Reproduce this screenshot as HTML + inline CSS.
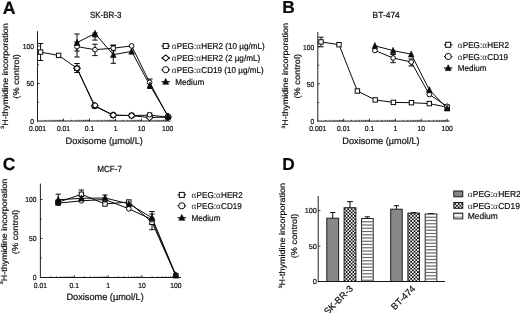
<!DOCTYPE html>
<html lang="en">
<head>
<meta charset="utf-8">
<title>Figure</title>
<style>
html,body{margin:0;padding:0;background:#fff;}
body{width:520px;height:313px;overflow:hidden;}
svg{display:block;text-rendering:geometricPrecision;font-family:'Liberation Sans', Arial, sans-serif;fill:#0a0a0a;}
</style>
</head>
<body>
<svg width="520" height="313" viewBox="0 0 520 313">
<defs>
<pattern id="pg" width="2" height="2" patternUnits="userSpaceOnUse"><rect width="2" height="2" fill="#8e8e8e"/><rect width="1" height="1" fill="#808080"/><rect x="1" y="1" width="1" height="1" fill="#808080"/></pattern>
<pattern id="pc" width="3.4" height="3.4" patternUnits="userSpaceOnUse" patternTransform="translate(0.6 0.9)"><rect width="3.4" height="3.4" fill="#fff"/><rect width="1.7" height="1.7" fill="#0c0c0c"/><rect x="1.7" y="1.7" width="1.7" height="1.7" fill="#0c0c0c"/></pattern>
<pattern id="ps" width="3.4" height="3.4" patternUnits="userSpaceOnUse"><rect width="3.4" height="3.4" fill="#fff"/><rect y="2.4" width="3.4" height="1" fill="#777"/></pattern>
</defs>
<rect width="520" height="313" fill="#fff"/>
<text transform="translate(2.80 13.60)" font-size="17.7" text-anchor="start" font-weight="bold" stroke="#0a0a0a" stroke-width="0.2">A</text>
<text transform="translate(105.70 17.90) scale(1.0 1.12)" font-size="8" text-anchor="middle" font-weight="normal" stroke="#0a0a0a" stroke-width="0.18">SK-BR-3</text>
<line x1="37.50" y1="31.20" x2="37.50" y2="121.45" stroke="#0a0a0a" stroke-width="0.9"/>
<line x1="37.05" y1="121.00" x2="170.50" y2="121.00" stroke="#0a0a0a" stroke-width="0.95"/>
<line x1="37.50" y1="102.25" x2="38.90" y2="102.25" stroke="#0a0a0a" stroke-width="0.8"/>
<line x1="37.50" y1="83.50" x2="39.70" y2="83.50" stroke="#0a0a0a" stroke-width="0.8"/>
<line x1="37.50" y1="64.75" x2="38.90" y2="64.75" stroke="#0a0a0a" stroke-width="0.8"/>
<line x1="37.50" y1="46.00" x2="39.70" y2="46.00" stroke="#0a0a0a" stroke-width="0.8"/>
<text transform="translate(33.90 123.90) scale(1.0 1.08)" font-size="6.75" text-anchor="end" font-weight="normal" stroke="#0a0a0a" stroke-width="0.18">0</text>
<text transform="translate(33.90 86.40) scale(1.0 1.08)" font-size="6.75" text-anchor="end" font-weight="normal" stroke="#0a0a0a" stroke-width="0.18">50</text>
<text transform="translate(33.90 48.90) scale(1.0 1.08)" font-size="6.75" text-anchor="end" font-weight="normal" stroke="#0a0a0a" stroke-width="0.18">100</text>
<text transform="translate(37.50 130.80) scale(1.0 1.08)" font-size="6.75" text-anchor="middle" font-weight="normal" stroke="#0a0a0a" stroke-width="0.18">0.001</text>
<line x1="45.33" y1="121.00" x2="45.33" y2="119.70" stroke="#0a0a0a" stroke-width="0.6"/>
<line x1="49.91" y1="121.00" x2="49.91" y2="119.70" stroke="#0a0a0a" stroke-width="0.6"/>
<line x1="53.15" y1="121.00" x2="53.15" y2="119.70" stroke="#0a0a0a" stroke-width="0.6"/>
<line x1="55.67" y1="121.00" x2="55.67" y2="119.70" stroke="#0a0a0a" stroke-width="0.6"/>
<line x1="57.73" y1="121.00" x2="57.73" y2="119.70" stroke="#0a0a0a" stroke-width="0.6"/>
<line x1="59.47" y1="121.00" x2="59.47" y2="119.70" stroke="#0a0a0a" stroke-width="0.6"/>
<line x1="60.98" y1="121.00" x2="60.98" y2="119.70" stroke="#0a0a0a" stroke-width="0.6"/>
<line x1="62.31" y1="121.00" x2="62.31" y2="119.70" stroke="#0a0a0a" stroke-width="0.6"/>
<line x1="63.50" y1="121.00" x2="63.50" y2="118.60" stroke="#0a0a0a" stroke-width="0.8"/>
<text transform="translate(63.50 130.80) scale(1.0 1.08)" font-size="6.75" text-anchor="middle" font-weight="normal" stroke="#0a0a0a" stroke-width="0.18">0.01</text>
<line x1="71.33" y1="121.00" x2="71.33" y2="119.70" stroke="#0a0a0a" stroke-width="0.6"/>
<line x1="75.91" y1="121.00" x2="75.91" y2="119.70" stroke="#0a0a0a" stroke-width="0.6"/>
<line x1="79.15" y1="121.00" x2="79.15" y2="119.70" stroke="#0a0a0a" stroke-width="0.6"/>
<line x1="81.67" y1="121.00" x2="81.67" y2="119.70" stroke="#0a0a0a" stroke-width="0.6"/>
<line x1="83.73" y1="121.00" x2="83.73" y2="119.70" stroke="#0a0a0a" stroke-width="0.6"/>
<line x1="85.47" y1="121.00" x2="85.47" y2="119.70" stroke="#0a0a0a" stroke-width="0.6"/>
<line x1="86.98" y1="121.00" x2="86.98" y2="119.70" stroke="#0a0a0a" stroke-width="0.6"/>
<line x1="88.31" y1="121.00" x2="88.31" y2="119.70" stroke="#0a0a0a" stroke-width="0.6"/>
<line x1="89.50" y1="121.00" x2="89.50" y2="118.60" stroke="#0a0a0a" stroke-width="0.8"/>
<text transform="translate(89.50 130.80) scale(1.0 1.08)" font-size="6.75" text-anchor="middle" font-weight="normal" stroke="#0a0a0a" stroke-width="0.18">0.1</text>
<line x1="97.33" y1="121.00" x2="97.33" y2="119.70" stroke="#0a0a0a" stroke-width="0.6"/>
<line x1="101.91" y1="121.00" x2="101.91" y2="119.70" stroke="#0a0a0a" stroke-width="0.6"/>
<line x1="105.15" y1="121.00" x2="105.15" y2="119.70" stroke="#0a0a0a" stroke-width="0.6"/>
<line x1="107.67" y1="121.00" x2="107.67" y2="119.70" stroke="#0a0a0a" stroke-width="0.6"/>
<line x1="109.73" y1="121.00" x2="109.73" y2="119.70" stroke="#0a0a0a" stroke-width="0.6"/>
<line x1="111.47" y1="121.00" x2="111.47" y2="119.70" stroke="#0a0a0a" stroke-width="0.6"/>
<line x1="112.98" y1="121.00" x2="112.98" y2="119.70" stroke="#0a0a0a" stroke-width="0.6"/>
<line x1="114.31" y1="121.00" x2="114.31" y2="119.70" stroke="#0a0a0a" stroke-width="0.6"/>
<line x1="115.50" y1="121.00" x2="115.50" y2="118.60" stroke="#0a0a0a" stroke-width="0.8"/>
<text transform="translate(115.50 130.80) scale(1.0 1.08)" font-size="6.75" text-anchor="middle" font-weight="normal" stroke="#0a0a0a" stroke-width="0.18">1</text>
<line x1="123.33" y1="121.00" x2="123.33" y2="119.70" stroke="#0a0a0a" stroke-width="0.6"/>
<line x1="127.91" y1="121.00" x2="127.91" y2="119.70" stroke="#0a0a0a" stroke-width="0.6"/>
<line x1="131.15" y1="121.00" x2="131.15" y2="119.70" stroke="#0a0a0a" stroke-width="0.6"/>
<line x1="133.67" y1="121.00" x2="133.67" y2="119.70" stroke="#0a0a0a" stroke-width="0.6"/>
<line x1="135.73" y1="121.00" x2="135.73" y2="119.70" stroke="#0a0a0a" stroke-width="0.6"/>
<line x1="137.47" y1="121.00" x2="137.47" y2="119.70" stroke="#0a0a0a" stroke-width="0.6"/>
<line x1="138.98" y1="121.00" x2="138.98" y2="119.70" stroke="#0a0a0a" stroke-width="0.6"/>
<line x1="140.31" y1="121.00" x2="140.31" y2="119.70" stroke="#0a0a0a" stroke-width="0.6"/>
<line x1="141.50" y1="121.00" x2="141.50" y2="118.60" stroke="#0a0a0a" stroke-width="0.8"/>
<text transform="translate(141.50 130.80) scale(1.0 1.08)" font-size="6.75" text-anchor="middle" font-weight="normal" stroke="#0a0a0a" stroke-width="0.18">10</text>
<line x1="149.33" y1="121.00" x2="149.33" y2="119.70" stroke="#0a0a0a" stroke-width="0.6"/>
<line x1="153.91" y1="121.00" x2="153.91" y2="119.70" stroke="#0a0a0a" stroke-width="0.6"/>
<line x1="157.15" y1="121.00" x2="157.15" y2="119.70" stroke="#0a0a0a" stroke-width="0.6"/>
<line x1="159.67" y1="121.00" x2="159.67" y2="119.70" stroke="#0a0a0a" stroke-width="0.6"/>
<line x1="161.73" y1="121.00" x2="161.73" y2="119.70" stroke="#0a0a0a" stroke-width="0.6"/>
<line x1="163.47" y1="121.00" x2="163.47" y2="119.70" stroke="#0a0a0a" stroke-width="0.6"/>
<line x1="164.98" y1="121.00" x2="164.98" y2="119.70" stroke="#0a0a0a" stroke-width="0.6"/>
<line x1="166.31" y1="121.00" x2="166.31" y2="119.70" stroke="#0a0a0a" stroke-width="0.6"/>
<line x1="167.50" y1="121.00" x2="167.50" y2="118.60" stroke="#0a0a0a" stroke-width="0.8"/>
<text transform="translate(167.50 130.80) scale(1.0 1.08)" font-size="6.75" text-anchor="middle" font-weight="normal" stroke="#0a0a0a" stroke-width="0.18">100</text>
<text transform="translate(104.20 144.40) scale(1.0 1.03)" font-size="9.2" text-anchor="middle" font-weight="normal" stroke="#0a0a0a" stroke-width="0.18">Doxisome (µmol/L)</text>
<text transform="translate(7.60 76.00) rotate(-90) scale(1.085 1.0)" font-size="8.3" text-anchor="middle" font-weight="normal" stroke="#0a0a0a" stroke-width="0.18"><tspan font-size="4.8" dy="-3.4">3</tspan><tspan dy="3.4">H-thymidine incorporation</tspan></text>
<text transform="translate(18.80 76.40) rotate(-90) scale(1.11 1.0)" font-size="8.3" text-anchor="middle" font-weight="normal" stroke="#0a0a0a" stroke-width="0.18">(% control)</text>
<polyline points="40.60,52.10 58.60,55.40 77.00,68.30 94.50,106.10 113.20,115.20 131.60,115.50 149.60,115.20 168.00,117.00" fill="none" stroke="#0a0a0a" stroke-width="1.0" stroke-linejoin="round"/>
<line x1="40.60" y1="43.50" x2="40.60" y2="60.50" stroke="#0a0a0a" stroke-width="1.0"/>
<line x1="37.90" y1="43.50" x2="43.30" y2="43.50" stroke="#0a0a0a" stroke-width="1.0"/>
<line x1="37.90" y1="60.50" x2="43.30" y2="60.50" stroke="#0a0a0a" stroke-width="1.0"/>
<line x1="77.00" y1="63.50" x2="77.00" y2="72.50" stroke="#0a0a0a" stroke-width="1.0"/>
<line x1="74.30" y1="63.50" x2="79.70" y2="63.50" stroke="#0a0a0a" stroke-width="1.0"/>
<line x1="74.30" y1="72.50" x2="79.70" y2="72.50" stroke="#0a0a0a" stroke-width="1.0"/>
<polyline points="77.00,68.30 94.80,105.70 113.30,115.20 131.60,115.60 149.60,117.60 168.00,117.00" fill="none" stroke="#0a0a0a" stroke-width="1.0" stroke-linejoin="round"/>
<polyline points="77.00,46.60 95.00,49.70 113.30,48.20 131.60,45.90 149.60,82.40 168.00,116.40" fill="none" stroke="#0a0a0a" stroke-width="1.0" stroke-linejoin="round"/>
<line x1="77.00" y1="42.00" x2="77.00" y2="51.00" stroke="#0a0a0a" stroke-width="1.0"/>
<line x1="74.30" y1="42.00" x2="79.70" y2="42.00" stroke="#0a0a0a" stroke-width="1.0"/>
<line x1="74.30" y1="51.00" x2="79.70" y2="51.00" stroke="#0a0a0a" stroke-width="1.0"/>
<line x1="95.00" y1="44.20" x2="95.00" y2="55.60" stroke="#0a0a0a" stroke-width="1.0"/>
<line x1="92.30" y1="44.20" x2="97.70" y2="44.20" stroke="#0a0a0a" stroke-width="1.0"/>
<line x1="92.30" y1="55.60" x2="97.70" y2="55.60" stroke="#0a0a0a" stroke-width="1.0"/>
<line x1="113.30" y1="45.50" x2="113.30" y2="50.80" stroke="#0a0a0a" stroke-width="1.0"/>
<line x1="110.60" y1="45.50" x2="116.00" y2="45.50" stroke="#0a0a0a" stroke-width="1.0"/>
<line x1="110.60" y1="50.80" x2="116.00" y2="50.80" stroke="#0a0a0a" stroke-width="1.0"/>
<polyline points="77.00,42.60 95.00,33.50 113.30,54.70 131.60,51.40 149.90,85.30 168.00,116.20" fill="none" stroke="#0a0a0a" stroke-width="1.0" stroke-linejoin="round"/>
<line x1="77.00" y1="34.00" x2="77.00" y2="57.00" stroke="#0a0a0a" stroke-width="1.0"/>
<line x1="74.30" y1="34.00" x2="79.70" y2="34.00" stroke="#0a0a0a" stroke-width="1.0"/>
<line x1="74.30" y1="57.00" x2="79.70" y2="57.00" stroke="#0a0a0a" stroke-width="1.0"/>
<line x1="95.00" y1="33.00" x2="95.00" y2="40.10" stroke="#0a0a0a" stroke-width="1.0"/>
<line x1="92.30" y1="33.00" x2="97.70" y2="33.00" stroke="#0a0a0a" stroke-width="1.0"/>
<line x1="92.30" y1="40.10" x2="97.70" y2="40.10" stroke="#0a0a0a" stroke-width="1.0"/>
<line x1="113.30" y1="45.00" x2="113.30" y2="63.30" stroke="#0a0a0a" stroke-width="1.0"/>
<line x1="110.60" y1="45.00" x2="116.00" y2="45.00" stroke="#0a0a0a" stroke-width="1.0"/>
<line x1="110.60" y1="63.30" x2="116.00" y2="63.30" stroke="#0a0a0a" stroke-width="1.0"/>
<line x1="149.90" y1="79.00" x2="149.90" y2="88.40" stroke="#0a0a0a" stroke-width="1.0"/>
<line x1="147.20" y1="79.00" x2="152.60" y2="79.00" stroke="#0a0a0a" stroke-width="1.0"/>
<line x1="147.20" y1="88.40" x2="152.60" y2="88.40" stroke="#0a0a0a" stroke-width="1.0"/>
<line x1="92.30" y1="36.90" x2="97.70" y2="36.90" stroke="#0a0a0a" stroke-width="1.0"/>
<rect x="38.40" y="49.90" width="4.4" height="4.4" fill="#fff" stroke="#0a0a0a" stroke-width="1.0"/>
<rect x="56.40" y="53.20" width="4.4" height="4.4" fill="#fff" stroke="#0a0a0a" stroke-width="1.0"/>
<rect x="74.80" y="66.10" width="4.4" height="4.4" fill="#fff" stroke="#0a0a0a" stroke-width="1.0"/>
<rect x="92.30" y="103.90" width="4.4" height="4.4" fill="#fff" stroke="#0a0a0a" stroke-width="1.0"/>
<rect x="111.00" y="113.00" width="4.4" height="4.4" fill="#fff" stroke="#0a0a0a" stroke-width="1.0"/>
<rect x="129.40" y="113.30" width="4.4" height="4.4" fill="#fff" stroke="#0a0a0a" stroke-width="1.0"/>
<rect x="147.40" y="113.00" width="4.4" height="4.4" fill="#fff" stroke="#0a0a0a" stroke-width="1.0"/>
<rect x="165.80" y="114.80" width="4.4" height="4.4" fill="#fff" stroke="#0a0a0a" stroke-width="1.0"/>
<polygon points="77.00,65.10 80.40,68.30 77.00,71.50 73.60,68.30" fill="#fff" stroke="#0a0a0a" stroke-width="1.05"/>
<polygon points="94.80,102.50 98.20,105.70 94.80,108.90 91.40,105.70" fill="#fff" stroke="#0a0a0a" stroke-width="1.05"/>
<polygon points="113.30,112.00 116.70,115.20 113.30,118.40 109.90,115.20" fill="#fff" stroke="#0a0a0a" stroke-width="1.05"/>
<polygon points="131.60,112.40 135.00,115.60 131.60,118.80 128.20,115.60" fill="#fff" stroke="#0a0a0a" stroke-width="1.05"/>
<polygon points="149.60,114.40 153.00,117.60 149.60,120.80 146.20,117.60" fill="#fff" stroke="#0a0a0a" stroke-width="1.05"/>
<polygon points="168.00,113.80 171.40,117.00 168.00,120.20 164.60,117.00" fill="#fff" stroke="#0a0a0a" stroke-width="1.05"/>
<circle cx="77.00" cy="46.60" r="2.35" fill="#fff" stroke="#0a0a0a" stroke-width="1.0"/>
<circle cx="95.00" cy="49.70" r="2.35" fill="#fff" stroke="#0a0a0a" stroke-width="1.0"/>
<circle cx="113.30" cy="48.20" r="2.35" fill="#fff" stroke="#0a0a0a" stroke-width="1.0"/>
<circle cx="131.60" cy="45.90" r="2.35" fill="#fff" stroke="#0a0a0a" stroke-width="1.0"/>
<circle cx="149.60" cy="82.40" r="2.35" fill="#fff" stroke="#0a0a0a" stroke-width="1.0"/>
<circle cx="168.00" cy="116.40" r="2.35" fill="#fff" stroke="#0a0a0a" stroke-width="1.0"/>
<circle cx="77.00" cy="68.30" r="2.35" fill="#fff" stroke="#0a0a0a" stroke-width="1.0"/>
<circle cx="95.20" cy="105.30" r="2.35" fill="#fff" stroke="#0a0a0a" stroke-width="1.0"/>
<circle cx="149.60" cy="114.80" r="2.35" fill="#fff" stroke="#0a0a0a" stroke-width="1.0"/>
<polygon points="77.00,39.30 79.80,45.40 74.20,45.40" fill="#0a0a0a" stroke="#0a0a0a" stroke-width="0.6" stroke-linejoin="round"/>
<polygon points="95.00,30.20 97.80,36.30 92.20,36.30" fill="#0a0a0a" stroke="#0a0a0a" stroke-width="0.6" stroke-linejoin="round"/>
<polygon points="113.30,51.40 116.10,57.50 110.50,57.50" fill="#0a0a0a" stroke="#0a0a0a" stroke-width="0.6" stroke-linejoin="round"/>
<polygon points="131.60,48.10 134.40,54.20 128.80,54.20" fill="#0a0a0a" stroke="#0a0a0a" stroke-width="0.6" stroke-linejoin="round"/>
<polygon points="149.90,82.00 152.70,88.10 147.10,88.10" fill="#0a0a0a" stroke="#0a0a0a" stroke-width="0.6" stroke-linejoin="round"/>
<polygon points="168.00,112.90 170.80,119.00 165.20,119.00" fill="#0a0a0a" stroke="#0a0a0a" stroke-width="0.6" stroke-linejoin="round"/>
<line x1="161.40" y1="46.00" x2="170.00" y2="46.00" stroke="#0a0a0a" stroke-width="1.1"/>
<rect x="163.20" y="43.50" width="5.0" height="5.0" fill="#fff" stroke="#0a0a0a" stroke-width="1.0"/>
<text transform="translate(171.70 49.30) scale(1.0 1.05)" font-size="8.15" text-anchor="start" font-weight="normal" stroke="#0a0a0a" stroke-width="0.18"><tspan font-family="Liberation Serif, serif" font-size="9" letter-spacing="0.35" stroke="none" fill="#2a2a2a">α</tspan>PEG:<tspan font-family="Liberation Serif, serif" font-size="9" letter-spacing="0.35" stroke="none" fill="#2a2a2a">α</tspan>HER2 (10 µg/mL)</text>
<line x1="161.40" y1="58.00" x2="170.00" y2="58.00" stroke="#0a0a0a" stroke-width="1.1"/>
<polygon points="165.70,54.90 169.20,58.00 165.70,61.10 162.20,58.00" fill="#fff" stroke="#0a0a0a" stroke-width="1.05"/>
<text transform="translate(171.70 61.30) scale(1.0 1.05)" font-size="8.15" text-anchor="start" font-weight="normal" stroke="#0a0a0a" stroke-width="0.18"><tspan font-family="Liberation Serif, serif" font-size="9" letter-spacing="0.35" stroke="none" fill="#2a2a2a">α</tspan>PEG:<tspan font-family="Liberation Serif, serif" font-size="9" letter-spacing="0.35" stroke="none" fill="#2a2a2a">α</tspan>HER2 (2 µg/mL)</text>
<line x1="161.40" y1="69.70" x2="170.00" y2="69.70" stroke="#0a0a0a" stroke-width="1.1"/>
<circle cx="165.70" cy="69.70" r="3.1" fill="#fff" stroke="#0a0a0a" stroke-width="1.0"/>
<text transform="translate(171.70 73.00) scale(1.0 1.05)" font-size="8.15" text-anchor="start" font-weight="normal" stroke="#0a0a0a" stroke-width="0.18"><tspan font-family="Liberation Serif, serif" font-size="9" letter-spacing="0.35" stroke="none" fill="#2a2a2a">α</tspan>PEG:<tspan font-family="Liberation Serif, serif" font-size="9" letter-spacing="0.35" stroke="none" fill="#2a2a2a">α</tspan>CD19 (10 µg/mL)</text>
<line x1="161.40" y1="81.70" x2="170.00" y2="81.70" stroke="#0a0a0a" stroke-width="1.1"/>
<polygon points="165.70,78.40 168.70,84.30 162.70,84.30" fill="#0a0a0a" stroke="#0a0a0a" stroke-width="0.6" stroke-linejoin="round"/>
<text transform="translate(175.30 85.00) scale(1.0 1.05)" font-size="8.15" text-anchor="start" font-weight="normal" stroke="#0a0a0a" stroke-width="0.18">Medium</text>
<text transform="translate(282.20 13.40)" font-size="17.4" text-anchor="start" font-weight="bold" stroke="#0a0a0a" stroke-width="0.2">B</text>
<text transform="translate(386.20 18.40) scale(1.0 1.04)" font-size="8.45" text-anchor="middle" font-weight="normal" stroke="#0a0a0a" stroke-width="0.18">BT-474</text>
<line x1="317.80" y1="32.00" x2="317.80" y2="121.55" stroke="#0a0a0a" stroke-width="0.9"/>
<line x1="317.35" y1="121.10" x2="449.50" y2="121.10" stroke="#0a0a0a" stroke-width="0.95"/>
<line x1="317.80" y1="102.47" x2="319.20" y2="102.47" stroke="#0a0a0a" stroke-width="0.8"/>
<line x1="317.80" y1="83.85" x2="320.00" y2="83.85" stroke="#0a0a0a" stroke-width="0.8"/>
<line x1="317.80" y1="65.22" x2="319.20" y2="65.22" stroke="#0a0a0a" stroke-width="0.8"/>
<line x1="317.80" y1="46.60" x2="320.00" y2="46.60" stroke="#0a0a0a" stroke-width="0.8"/>
<text transform="translate(314.30 124.00) scale(1.0 1.08)" font-size="6.75" text-anchor="end" font-weight="normal" stroke="#0a0a0a" stroke-width="0.18">0</text>
<text transform="translate(314.30 86.75) scale(1.0 1.08)" font-size="6.75" text-anchor="end" font-weight="normal" stroke="#0a0a0a" stroke-width="0.18">50</text>
<text transform="translate(314.30 49.50) scale(1.0 1.08)" font-size="6.75" text-anchor="end" font-weight="normal" stroke="#0a0a0a" stroke-width="0.18">100</text>
<text transform="translate(317.80 130.80) scale(1.0 1.08)" font-size="6.75" text-anchor="middle" font-weight="normal" stroke="#0a0a0a" stroke-width="0.18">0.001</text>
<line x1="325.59" y1="121.10" x2="325.59" y2="119.80" stroke="#0a0a0a" stroke-width="0.6"/>
<line x1="330.14" y1="121.10" x2="330.14" y2="119.80" stroke="#0a0a0a" stroke-width="0.6"/>
<line x1="333.38" y1="121.10" x2="333.38" y2="119.80" stroke="#0a0a0a" stroke-width="0.6"/>
<line x1="335.88" y1="121.10" x2="335.88" y2="119.80" stroke="#0a0a0a" stroke-width="0.6"/>
<line x1="337.93" y1="121.10" x2="337.93" y2="119.80" stroke="#0a0a0a" stroke-width="0.6"/>
<line x1="339.66" y1="121.10" x2="339.66" y2="119.80" stroke="#0a0a0a" stroke-width="0.6"/>
<line x1="341.16" y1="121.10" x2="341.16" y2="119.80" stroke="#0a0a0a" stroke-width="0.6"/>
<line x1="342.49" y1="121.10" x2="342.49" y2="119.80" stroke="#0a0a0a" stroke-width="0.6"/>
<line x1="343.67" y1="121.10" x2="343.67" y2="118.70" stroke="#0a0a0a" stroke-width="0.8"/>
<text transform="translate(343.67 130.80) scale(1.0 1.08)" font-size="6.75" text-anchor="middle" font-weight="normal" stroke="#0a0a0a" stroke-width="0.18">0.01</text>
<line x1="351.46" y1="121.10" x2="351.46" y2="119.80" stroke="#0a0a0a" stroke-width="0.6"/>
<line x1="356.01" y1="121.10" x2="356.01" y2="119.80" stroke="#0a0a0a" stroke-width="0.6"/>
<line x1="359.25" y1="121.10" x2="359.25" y2="119.80" stroke="#0a0a0a" stroke-width="0.6"/>
<line x1="361.75" y1="121.10" x2="361.75" y2="119.80" stroke="#0a0a0a" stroke-width="0.6"/>
<line x1="363.80" y1="121.10" x2="363.80" y2="119.80" stroke="#0a0a0a" stroke-width="0.6"/>
<line x1="365.53" y1="121.10" x2="365.53" y2="119.80" stroke="#0a0a0a" stroke-width="0.6"/>
<line x1="367.03" y1="121.10" x2="367.03" y2="119.80" stroke="#0a0a0a" stroke-width="0.6"/>
<line x1="368.36" y1="121.10" x2="368.36" y2="119.80" stroke="#0a0a0a" stroke-width="0.6"/>
<line x1="369.54" y1="121.10" x2="369.54" y2="118.70" stroke="#0a0a0a" stroke-width="0.8"/>
<text transform="translate(369.54 130.80) scale(1.0 1.08)" font-size="6.75" text-anchor="middle" font-weight="normal" stroke="#0a0a0a" stroke-width="0.18">0.1</text>
<line x1="377.33" y1="121.10" x2="377.33" y2="119.80" stroke="#0a0a0a" stroke-width="0.6"/>
<line x1="381.88" y1="121.10" x2="381.88" y2="119.80" stroke="#0a0a0a" stroke-width="0.6"/>
<line x1="385.12" y1="121.10" x2="385.12" y2="119.80" stroke="#0a0a0a" stroke-width="0.6"/>
<line x1="387.62" y1="121.10" x2="387.62" y2="119.80" stroke="#0a0a0a" stroke-width="0.6"/>
<line x1="389.67" y1="121.10" x2="389.67" y2="119.80" stroke="#0a0a0a" stroke-width="0.6"/>
<line x1="391.40" y1="121.10" x2="391.40" y2="119.80" stroke="#0a0a0a" stroke-width="0.6"/>
<line x1="392.90" y1="121.10" x2="392.90" y2="119.80" stroke="#0a0a0a" stroke-width="0.6"/>
<line x1="394.23" y1="121.10" x2="394.23" y2="119.80" stroke="#0a0a0a" stroke-width="0.6"/>
<line x1="395.41" y1="121.10" x2="395.41" y2="118.70" stroke="#0a0a0a" stroke-width="0.8"/>
<text transform="translate(395.41 130.80) scale(1.0 1.08)" font-size="6.75" text-anchor="middle" font-weight="normal" stroke="#0a0a0a" stroke-width="0.18">1</text>
<line x1="403.20" y1="121.10" x2="403.20" y2="119.80" stroke="#0a0a0a" stroke-width="0.6"/>
<line x1="407.75" y1="121.10" x2="407.75" y2="119.80" stroke="#0a0a0a" stroke-width="0.6"/>
<line x1="410.99" y1="121.10" x2="410.99" y2="119.80" stroke="#0a0a0a" stroke-width="0.6"/>
<line x1="413.49" y1="121.10" x2="413.49" y2="119.80" stroke="#0a0a0a" stroke-width="0.6"/>
<line x1="415.54" y1="121.10" x2="415.54" y2="119.80" stroke="#0a0a0a" stroke-width="0.6"/>
<line x1="417.27" y1="121.10" x2="417.27" y2="119.80" stroke="#0a0a0a" stroke-width="0.6"/>
<line x1="418.77" y1="121.10" x2="418.77" y2="119.80" stroke="#0a0a0a" stroke-width="0.6"/>
<line x1="420.10" y1="121.10" x2="420.10" y2="119.80" stroke="#0a0a0a" stroke-width="0.6"/>
<line x1="421.28" y1="121.10" x2="421.28" y2="118.70" stroke="#0a0a0a" stroke-width="0.8"/>
<text transform="translate(421.28 130.80) scale(1.0 1.08)" font-size="6.75" text-anchor="middle" font-weight="normal" stroke="#0a0a0a" stroke-width="0.18">10</text>
<line x1="429.07" y1="121.10" x2="429.07" y2="119.80" stroke="#0a0a0a" stroke-width="0.6"/>
<line x1="433.62" y1="121.10" x2="433.62" y2="119.80" stroke="#0a0a0a" stroke-width="0.6"/>
<line x1="436.86" y1="121.10" x2="436.86" y2="119.80" stroke="#0a0a0a" stroke-width="0.6"/>
<line x1="439.36" y1="121.10" x2="439.36" y2="119.80" stroke="#0a0a0a" stroke-width="0.6"/>
<line x1="441.41" y1="121.10" x2="441.41" y2="119.80" stroke="#0a0a0a" stroke-width="0.6"/>
<line x1="443.14" y1="121.10" x2="443.14" y2="119.80" stroke="#0a0a0a" stroke-width="0.6"/>
<line x1="444.64" y1="121.10" x2="444.64" y2="119.80" stroke="#0a0a0a" stroke-width="0.6"/>
<line x1="445.97" y1="121.10" x2="445.97" y2="119.80" stroke="#0a0a0a" stroke-width="0.6"/>
<line x1="447.15" y1="121.10" x2="447.15" y2="118.70" stroke="#0a0a0a" stroke-width="0.8"/>
<text transform="translate(447.15 130.80) scale(1.0 1.08)" font-size="6.75" text-anchor="middle" font-weight="normal" stroke="#0a0a0a" stroke-width="0.18">100</text>
<text transform="translate(381.00 144.30) scale(1.0 1.03)" font-size="9.2" text-anchor="middle" font-weight="normal" stroke="#0a0a0a" stroke-width="0.18">Doxisome (µmol/L)</text>
<text transform="translate(288.20 75.80) rotate(-90) scale(1.085 1.0)" font-size="8.3" text-anchor="middle" font-weight="normal" stroke="#0a0a0a" stroke-width="0.18"><tspan font-size="4.8" dy="-3.4">3</tspan><tspan dy="3.4">H-thymidine incorporation</tspan></text>
<text transform="translate(299.80 76.20) rotate(-90) scale(1.11 1.0)" font-size="8.3" text-anchor="middle" font-weight="normal" stroke="#0a0a0a" stroke-width="0.18">(% control)</text>
<polyline points="321.00,41.90 339.00,44.70 357.40,91.00 375.20,99.90 393.40,102.40 411.40,102.70 429.30,103.60 447.20,107.20" fill="none" stroke="#0a0a0a" stroke-width="1.0" stroke-linejoin="round"/>
<line x1="321.00" y1="37.20" x2="321.00" y2="46.80" stroke="#0a0a0a" stroke-width="1.0"/>
<line x1="318.30" y1="37.20" x2="323.70" y2="37.20" stroke="#0a0a0a" stroke-width="1.0"/>
<line x1="318.30" y1="46.80" x2="323.70" y2="46.80" stroke="#0a0a0a" stroke-width="1.0"/>
<polyline points="374.90,50.50 393.10,58.00 411.20,62.00 429.30,94.50 447.10,106.30" fill="none" stroke="#0a0a0a" stroke-width="1.0" stroke-linejoin="round"/>
<line x1="393.10" y1="54.50" x2="393.10" y2="62.70" stroke="#0a0a0a" stroke-width="1.0"/>
<line x1="390.40" y1="54.50" x2="395.80" y2="54.50" stroke="#0a0a0a" stroke-width="1.0"/>
<line x1="390.40" y1="62.70" x2="395.80" y2="62.70" stroke="#0a0a0a" stroke-width="1.0"/>
<line x1="411.20" y1="59.00" x2="411.20" y2="66.00" stroke="#0a0a0a" stroke-width="1.0"/>
<line x1="408.50" y1="59.00" x2="413.90" y2="59.00" stroke="#0a0a0a" stroke-width="1.0"/>
<line x1="408.50" y1="66.00" x2="413.90" y2="66.00" stroke="#0a0a0a" stroke-width="1.0"/>
<polyline points="374.90,45.80 393.10,50.60 411.20,54.20 429.30,89.80 447.10,108.20" fill="none" stroke="#0a0a0a" stroke-width="1.0" stroke-linejoin="round"/>
<rect x="318.80" y="39.70" width="4.4" height="4.4" fill="#fff" stroke="#0a0a0a" stroke-width="1.0"/>
<rect x="336.80" y="42.50" width="4.4" height="4.4" fill="#fff" stroke="#0a0a0a" stroke-width="1.0"/>
<rect x="355.20" y="88.80" width="4.4" height="4.4" fill="#fff" stroke="#0a0a0a" stroke-width="1.0"/>
<rect x="373.00" y="97.70" width="4.4" height="4.4" fill="#fff" stroke="#0a0a0a" stroke-width="1.0"/>
<rect x="391.20" y="100.20" width="4.4" height="4.4" fill="#fff" stroke="#0a0a0a" stroke-width="1.0"/>
<rect x="409.20" y="100.50" width="4.4" height="4.4" fill="#fff" stroke="#0a0a0a" stroke-width="1.0"/>
<rect x="427.10" y="101.40" width="4.4" height="4.4" fill="#fff" stroke="#0a0a0a" stroke-width="1.0"/>
<rect x="445.00" y="105.00" width="4.4" height="4.4" fill="#fff" stroke="#0a0a0a" stroke-width="1.0"/>
<circle cx="374.90" cy="50.50" r="2.35" fill="#fff" stroke="#0a0a0a" stroke-width="1.0"/>
<circle cx="393.10" cy="58.00" r="2.35" fill="#fff" stroke="#0a0a0a" stroke-width="1.0"/>
<circle cx="411.20" cy="62.00" r="2.35" fill="#fff" stroke="#0a0a0a" stroke-width="1.0"/>
<circle cx="429.30" cy="94.50" r="2.35" fill="#fff" stroke="#0a0a0a" stroke-width="1.0"/>
<circle cx="447.10" cy="106.30" r="2.35" fill="#fff" stroke="#0a0a0a" stroke-width="1.0"/>
<polygon points="374.90,42.50 377.70,48.60 372.10,48.60" fill="#0a0a0a" stroke="#0a0a0a" stroke-width="0.6" stroke-linejoin="round"/>
<polygon points="393.10,47.30 395.90,53.40 390.30,53.40" fill="#0a0a0a" stroke="#0a0a0a" stroke-width="0.6" stroke-linejoin="round"/>
<polygon points="411.20,50.90 414.00,57.00 408.40,57.00" fill="#0a0a0a" stroke="#0a0a0a" stroke-width="0.6" stroke-linejoin="round"/>
<polygon points="429.30,86.50 432.10,92.60 426.50,92.60" fill="#0a0a0a" stroke="#0a0a0a" stroke-width="0.6" stroke-linejoin="round"/>
<polygon points="447.10,104.90 449.90,111.00 444.30,111.00" fill="#0a0a0a" stroke="#0a0a0a" stroke-width="0.6" stroke-linejoin="round"/>
<line x1="443.90" y1="44.80" x2="452.50" y2="44.80" stroke="#0a0a0a" stroke-width="1.1"/>
<rect x="445.70" y="42.30" width="5.0" height="5.0" fill="#fff" stroke="#0a0a0a" stroke-width="1.0"/>
<text transform="translate(457.70 48.10) scale(1.0 1.05)" font-size="8.15" text-anchor="start" font-weight="normal" stroke="#0a0a0a" stroke-width="0.18"><tspan font-family="Liberation Serif, serif" font-size="9" letter-spacing="0.35" stroke="none" fill="#2a2a2a">α</tspan>PEG:<tspan font-family="Liberation Serif, serif" font-size="9" letter-spacing="0.35" stroke="none" fill="#2a2a2a">α</tspan>HER2</text>
<line x1="443.90" y1="56.50" x2="452.50" y2="56.50" stroke="#0a0a0a" stroke-width="1.1"/>
<circle cx="448.20" cy="56.50" r="3.1" fill="#fff" stroke="#0a0a0a" stroke-width="1.0"/>
<text transform="translate(457.70 59.80) scale(1.0 1.05)" font-size="8.15" text-anchor="start" font-weight="normal" stroke="#0a0a0a" stroke-width="0.18"><tspan font-family="Liberation Serif, serif" font-size="9" letter-spacing="0.35" stroke="none" fill="#2a2a2a">α</tspan>PEG:<tspan font-family="Liberation Serif, serif" font-size="9" letter-spacing="0.35" stroke="none" fill="#2a2a2a">α</tspan>CD19</text>
<line x1="443.90" y1="68.00" x2="452.50" y2="68.00" stroke="#0a0a0a" stroke-width="1.1"/>
<polygon points="448.20,64.70 451.20,70.60 445.20,70.60" fill="#0a0a0a" stroke="#0a0a0a" stroke-width="0.6" stroke-linejoin="round"/>
<text transform="translate(457.70 71.30) scale(1.0 1.05)" font-size="8.15" text-anchor="start" font-weight="normal" stroke="#0a0a0a" stroke-width="0.18">Medium</text>
<text transform="translate(2.80 169.50)" font-size="17.5" text-anchor="start" font-weight="bold" stroke="#0a0a0a" stroke-width="0.2">C</text>
<text transform="translate(109.60 172.20) scale(1.0 1.1)" font-size="8.1" text-anchor="middle" font-weight="normal" stroke="#0a0a0a" stroke-width="0.18">MCF-7</text>
<line x1="40.40" y1="183.60" x2="40.40" y2="277.95" stroke="#0a0a0a" stroke-width="0.9"/>
<line x1="39.95" y1="277.50" x2="181.00" y2="277.50" stroke="#0a0a0a" stroke-width="0.95"/>
<line x1="40.40" y1="258.00" x2="41.80" y2="258.00" stroke="#0a0a0a" stroke-width="0.8"/>
<line x1="40.40" y1="238.50" x2="42.60" y2="238.50" stroke="#0a0a0a" stroke-width="0.8"/>
<line x1="40.40" y1="219.00" x2="41.80" y2="219.00" stroke="#0a0a0a" stroke-width="0.8"/>
<line x1="40.40" y1="199.50" x2="42.60" y2="199.50" stroke="#0a0a0a" stroke-width="0.8"/>
<text transform="translate(36.60 280.40) scale(1.0 1.08)" font-size="6.75" text-anchor="end" font-weight="normal" stroke="#0a0a0a" stroke-width="0.18">0</text>
<text transform="translate(36.60 241.40) scale(1.0 1.08)" font-size="6.75" text-anchor="end" font-weight="normal" stroke="#0a0a0a" stroke-width="0.18">50</text>
<text transform="translate(36.60 202.40) scale(1.0 1.08)" font-size="6.75" text-anchor="end" font-weight="normal" stroke="#0a0a0a" stroke-width="0.18">100</text>
<text transform="translate(40.40 287.90) scale(1.0 1.08)" font-size="6.75" text-anchor="middle" font-weight="normal" stroke="#0a0a0a" stroke-width="0.18">0.01</text>
<line x1="50.59" y1="277.50" x2="50.59" y2="276.20" stroke="#0a0a0a" stroke-width="0.6"/>
<line x1="56.55" y1="277.50" x2="56.55" y2="276.20" stroke="#0a0a0a" stroke-width="0.6"/>
<line x1="60.78" y1="277.50" x2="60.78" y2="276.20" stroke="#0a0a0a" stroke-width="0.6"/>
<line x1="64.06" y1="277.50" x2="64.06" y2="276.20" stroke="#0a0a0a" stroke-width="0.6"/>
<line x1="66.74" y1="277.50" x2="66.74" y2="276.20" stroke="#0a0a0a" stroke-width="0.6"/>
<line x1="69.01" y1="277.50" x2="69.01" y2="276.20" stroke="#0a0a0a" stroke-width="0.6"/>
<line x1="70.97" y1="277.50" x2="70.97" y2="276.20" stroke="#0a0a0a" stroke-width="0.6"/>
<line x1="72.70" y1="277.50" x2="72.70" y2="276.20" stroke="#0a0a0a" stroke-width="0.6"/>
<line x1="74.25" y1="277.50" x2="74.25" y2="275.10" stroke="#0a0a0a" stroke-width="0.8"/>
<text transform="translate(74.25 287.90) scale(1.0 1.08)" font-size="6.75" text-anchor="middle" font-weight="normal" stroke="#0a0a0a" stroke-width="0.18">0.1</text>
<line x1="84.44" y1="277.50" x2="84.44" y2="276.20" stroke="#0a0a0a" stroke-width="0.6"/>
<line x1="90.40" y1="277.50" x2="90.40" y2="276.20" stroke="#0a0a0a" stroke-width="0.6"/>
<line x1="94.63" y1="277.50" x2="94.63" y2="276.20" stroke="#0a0a0a" stroke-width="0.6"/>
<line x1="97.91" y1="277.50" x2="97.91" y2="276.20" stroke="#0a0a0a" stroke-width="0.6"/>
<line x1="100.59" y1="277.50" x2="100.59" y2="276.20" stroke="#0a0a0a" stroke-width="0.6"/>
<line x1="102.86" y1="277.50" x2="102.86" y2="276.20" stroke="#0a0a0a" stroke-width="0.6"/>
<line x1="104.82" y1="277.50" x2="104.82" y2="276.20" stroke="#0a0a0a" stroke-width="0.6"/>
<line x1="106.55" y1="277.50" x2="106.55" y2="276.20" stroke="#0a0a0a" stroke-width="0.6"/>
<line x1="108.10" y1="277.50" x2="108.10" y2="275.10" stroke="#0a0a0a" stroke-width="0.8"/>
<text transform="translate(108.10 287.90) scale(1.0 1.08)" font-size="6.75" text-anchor="middle" font-weight="normal" stroke="#0a0a0a" stroke-width="0.18">1</text>
<line x1="118.29" y1="277.50" x2="118.29" y2="276.20" stroke="#0a0a0a" stroke-width="0.6"/>
<line x1="124.25" y1="277.50" x2="124.25" y2="276.20" stroke="#0a0a0a" stroke-width="0.6"/>
<line x1="128.48" y1="277.50" x2="128.48" y2="276.20" stroke="#0a0a0a" stroke-width="0.6"/>
<line x1="131.76" y1="277.50" x2="131.76" y2="276.20" stroke="#0a0a0a" stroke-width="0.6"/>
<line x1="134.44" y1="277.50" x2="134.44" y2="276.20" stroke="#0a0a0a" stroke-width="0.6"/>
<line x1="136.71" y1="277.50" x2="136.71" y2="276.20" stroke="#0a0a0a" stroke-width="0.6"/>
<line x1="138.67" y1="277.50" x2="138.67" y2="276.20" stroke="#0a0a0a" stroke-width="0.6"/>
<line x1="140.40" y1="277.50" x2="140.40" y2="276.20" stroke="#0a0a0a" stroke-width="0.6"/>
<line x1="141.95" y1="277.50" x2="141.95" y2="275.10" stroke="#0a0a0a" stroke-width="0.8"/>
<text transform="translate(141.95 287.90) scale(1.0 1.08)" font-size="6.75" text-anchor="middle" font-weight="normal" stroke="#0a0a0a" stroke-width="0.18">10</text>
<line x1="152.14" y1="277.50" x2="152.14" y2="276.20" stroke="#0a0a0a" stroke-width="0.6"/>
<line x1="158.10" y1="277.50" x2="158.10" y2="276.20" stroke="#0a0a0a" stroke-width="0.6"/>
<line x1="162.33" y1="277.50" x2="162.33" y2="276.20" stroke="#0a0a0a" stroke-width="0.6"/>
<line x1="165.61" y1="277.50" x2="165.61" y2="276.20" stroke="#0a0a0a" stroke-width="0.6"/>
<line x1="168.29" y1="277.50" x2="168.29" y2="276.20" stroke="#0a0a0a" stroke-width="0.6"/>
<line x1="170.56" y1="277.50" x2="170.56" y2="276.20" stroke="#0a0a0a" stroke-width="0.6"/>
<line x1="172.52" y1="277.50" x2="172.52" y2="276.20" stroke="#0a0a0a" stroke-width="0.6"/>
<line x1="174.25" y1="277.50" x2="174.25" y2="276.20" stroke="#0a0a0a" stroke-width="0.6"/>
<line x1="175.80" y1="277.50" x2="175.80" y2="275.10" stroke="#0a0a0a" stroke-width="0.8"/>
<text transform="translate(175.80 287.90) scale(1.0 1.08)" font-size="6.75" text-anchor="middle" font-weight="normal" stroke="#0a0a0a" stroke-width="0.18">100</text>
<text transform="translate(105.10 299.90) scale(1.0 1.03)" font-size="9.2" text-anchor="middle" font-weight="normal" stroke="#0a0a0a" stroke-width="0.18">Doxisome (µmol/L)</text>
<text transform="translate(6.80 231.50) rotate(-90) scale(1.085 1.0)" font-size="8.3" text-anchor="middle" font-weight="normal" stroke="#0a0a0a" stroke-width="0.18"><tspan font-size="4.8" dy="-3.4">3</tspan><tspan dy="3.4">H-thymidine incorporation</tspan></text>
<text transform="translate(18.40 231.90) rotate(-90) scale(1.11 1.0)" font-size="8.3" text-anchor="middle" font-weight="normal" stroke="#0a0a0a" stroke-width="0.18">(% control)</text>
<polyline points="58.20,202.30 81.40,194.30 105.00,204.00 128.80,202.00 152.00,222.30 175.80,275.60" fill="none" stroke="#0a0a0a" stroke-width="1.0" stroke-linejoin="round"/>
<line x1="81.40" y1="190.00" x2="81.40" y2="199.00" stroke="#0a0a0a" stroke-width="1.0"/>
<line x1="78.70" y1="190.00" x2="84.10" y2="190.00" stroke="#0a0a0a" stroke-width="1.0"/>
<line x1="78.70" y1="199.00" x2="84.10" y2="199.00" stroke="#0a0a0a" stroke-width="1.0"/>
<line x1="152.00" y1="214.00" x2="152.00" y2="229.70" stroke="#0a0a0a" stroke-width="1.0"/>
<line x1="149.30" y1="214.00" x2="154.70" y2="214.00" stroke="#0a0a0a" stroke-width="1.0"/>
<line x1="149.30" y1="229.70" x2="154.70" y2="229.70" stroke="#0a0a0a" stroke-width="1.0"/>
<polyline points="58.20,203.20 81.40,200.80 105.00,199.50 128.80,208.80 152.00,219.50 175.80,275.30" fill="none" stroke="#0a0a0a" stroke-width="1.0" stroke-linejoin="round"/>
<polyline points="58.20,199.80 81.40,198.30 105.00,198.00 128.80,203.80 152.00,217.70 175.80,275.00" fill="none" stroke="#0a0a0a" stroke-width="1.0" stroke-linejoin="round"/>
<line x1="58.20" y1="194.20" x2="58.20" y2="205.00" stroke="#0a0a0a" stroke-width="1.0"/>
<line x1="55.50" y1="194.20" x2="60.90" y2="194.20" stroke="#0a0a0a" stroke-width="1.0"/>
<line x1="55.50" y1="205.00" x2="60.90" y2="205.00" stroke="#0a0a0a" stroke-width="1.0"/>
<line x1="105.00" y1="195.00" x2="105.00" y2="201.00" stroke="#0a0a0a" stroke-width="1.0"/>
<line x1="102.30" y1="195.00" x2="107.70" y2="195.00" stroke="#0a0a0a" stroke-width="1.0"/>
<line x1="102.30" y1="201.00" x2="107.70" y2="201.00" stroke="#0a0a0a" stroke-width="1.0"/>
<line x1="152.00" y1="211.50" x2="152.00" y2="224.00" stroke="#0a0a0a" stroke-width="1.0"/>
<line x1="149.30" y1="211.50" x2="154.70" y2="211.50" stroke="#0a0a0a" stroke-width="1.0"/>
<line x1="149.30" y1="224.00" x2="154.70" y2="224.00" stroke="#0a0a0a" stroke-width="1.0"/>
<rect x="56.00" y="200.10" width="4.4" height="4.4" fill="#fff" stroke="#0a0a0a" stroke-width="1.0"/>
<rect x="79.20" y="192.10" width="4.4" height="4.4" fill="#fff" stroke="#0a0a0a" stroke-width="1.0"/>
<rect x="102.80" y="201.80" width="4.4" height="4.4" fill="#fff" stroke="#0a0a0a" stroke-width="1.0"/>
<rect x="126.60" y="199.80" width="4.4" height="4.4" fill="#fff" stroke="#0a0a0a" stroke-width="1.0"/>
<rect x="149.80" y="220.10" width="4.4" height="4.4" fill="#fff" stroke="#0a0a0a" stroke-width="1.0"/>
<rect x="173.60" y="273.40" width="4.4" height="4.4" fill="#fff" stroke="#0a0a0a" stroke-width="1.0"/>
<circle cx="58.20" cy="203.20" r="2.35" fill="#fff" stroke="#0a0a0a" stroke-width="1.0"/>
<circle cx="81.40" cy="200.80" r="2.35" fill="#fff" stroke="#0a0a0a" stroke-width="1.0"/>
<circle cx="105.00" cy="199.50" r="2.35" fill="#fff" stroke="#0a0a0a" stroke-width="1.0"/>
<circle cx="128.80" cy="208.80" r="2.35" fill="#fff" stroke="#0a0a0a" stroke-width="1.0"/>
<circle cx="152.00" cy="219.50" r="2.35" fill="#fff" stroke="#0a0a0a" stroke-width="1.0"/>
<circle cx="175.80" cy="275.30" r="2.35" fill="#fff" stroke="#0a0a0a" stroke-width="1.0"/>
<polygon points="58.20,196.50 61.00,202.60 55.40,202.60" fill="#0a0a0a" stroke="#0a0a0a" stroke-width="0.6" stroke-linejoin="round"/>
<polygon points="81.40,195.00 84.20,201.10 78.60,201.10" fill="#0a0a0a" stroke="#0a0a0a" stroke-width="0.6" stroke-linejoin="round"/>
<polygon points="105.00,194.70 107.80,200.80 102.20,200.80" fill="#0a0a0a" stroke="#0a0a0a" stroke-width="0.6" stroke-linejoin="round"/>
<polygon points="128.80,200.50 131.60,206.60 126.00,206.60" fill="#0a0a0a" stroke="#0a0a0a" stroke-width="0.6" stroke-linejoin="round"/>
<polygon points="152.00,214.40 154.80,220.50 149.20,220.50" fill="#0a0a0a" stroke="#0a0a0a" stroke-width="0.6" stroke-linejoin="round"/>
<polygon points="175.80,271.70 178.60,277.80 173.00,277.80" fill="#0a0a0a" stroke="#0a0a0a" stroke-width="0.6" stroke-linejoin="round"/>
<rect x="56.00" y="200.40" width="4.4" height="4.4" fill="#0a0a0a" stroke="#0a0a0a" stroke-width="1.0"/>
<line x1="177.50" y1="194.90" x2="186.10" y2="194.90" stroke="#0a0a0a" stroke-width="1.1"/>
<rect x="179.30" y="192.40" width="5.0" height="5.0" fill="#fff" stroke="#0a0a0a" stroke-width="1.0"/>
<text transform="translate(191.50 198.20) scale(1.0 1.05)" font-size="8.15" text-anchor="start" font-weight="normal" stroke="#0a0a0a" stroke-width="0.18"><tspan font-family="Liberation Serif, serif" font-size="9" letter-spacing="0.35" stroke="none" fill="#2a2a2a">α</tspan>PEG:<tspan font-family="Liberation Serif, serif" font-size="9" letter-spacing="0.35" stroke="none" fill="#2a2a2a">α</tspan>HER2</text>
<line x1="177.50" y1="205.80" x2="186.10" y2="205.80" stroke="#0a0a0a" stroke-width="1.1"/>
<circle cx="181.80" cy="205.80" r="3.1" fill="#fff" stroke="#0a0a0a" stroke-width="1.0"/>
<text transform="translate(191.50 209.10) scale(1.0 1.05)" font-size="8.15" text-anchor="start" font-weight="normal" stroke="#0a0a0a" stroke-width="0.18"><tspan font-family="Liberation Serif, serif" font-size="9" letter-spacing="0.35" stroke="none" fill="#2a2a2a">α</tspan>PEG:<tspan font-family="Liberation Serif, serif" font-size="9" letter-spacing="0.35" stroke="none" fill="#2a2a2a">α</tspan>CD19</text>
<line x1="177.50" y1="217.70" x2="186.10" y2="217.70" stroke="#0a0a0a" stroke-width="1.1"/>
<polygon points="181.80,214.40 184.80,220.30 178.80,220.30" fill="#0a0a0a" stroke="#0a0a0a" stroke-width="0.6" stroke-linejoin="round"/>
<text transform="translate(191.50 221.00) scale(1.0 1.05)" font-size="8.15" text-anchor="start" font-weight="normal" stroke="#0a0a0a" stroke-width="0.18">Medium</text>
<text transform="translate(282.20 169.90)" font-size="17.3" text-anchor="start" font-weight="bold" stroke="#0a0a0a" stroke-width="0.2">D</text>
<line x1="318.20" y1="196.00" x2="318.20" y2="281.95" stroke="#0a0a0a" stroke-width="0.9"/>
<line x1="317.75" y1="281.50" x2="445.00" y2="281.50" stroke="#0a0a0a" stroke-width="0.95"/>
<line x1="318.20" y1="246.05" x2="320.40" y2="246.05" stroke="#0a0a0a" stroke-width="0.8"/>
<line x1="318.20" y1="210.60" x2="320.40" y2="210.60" stroke="#0a0a0a" stroke-width="0.8"/>
<text transform="translate(316.90 284.00)" font-size="7.3" text-anchor="end" font-weight="normal" stroke="#0a0a0a" stroke-width="0.18">0</text>
<text transform="translate(316.90 248.55)" font-size="7.3" text-anchor="end" font-weight="normal" stroke="#0a0a0a" stroke-width="0.18">50</text>
<text transform="translate(316.90 213.10)" font-size="7.3" text-anchor="end" font-weight="normal" stroke="#0a0a0a" stroke-width="0.18">100</text>
<text transform="translate(285.20 235.60) rotate(-90) scale(1.085 1.0)" font-size="8.3" text-anchor="middle" font-weight="normal" stroke="#0a0a0a" stroke-width="0.18"><tspan font-size="4.8" dy="-3.4">3</tspan><tspan dy="3.4">H-thymidine incorporation</tspan></text>
<text transform="translate(296.80 236.00) rotate(-90) scale(1.11 1.0)" font-size="8.3" text-anchor="middle" font-weight="normal" stroke="#0a0a0a" stroke-width="0.18">(% control)</text>
<line x1="332.70" y1="212.50" x2="332.70" y2="218.20" stroke="#0a0a0a" stroke-width="1.0"/>
<line x1="330.10" y1="212.50" x2="335.30" y2="212.50" stroke="#0a0a0a" stroke-width="1.0"/>
<rect x="326.80" y="218.20" width="11.80" height="63.30" fill="url(#pg)" stroke="#1c1c1c" stroke-width="1"/>
<line x1="350.00" y1="201.60" x2="350.00" y2="207.70" stroke="#0a0a0a" stroke-width="1.0"/>
<line x1="347.10" y1="201.60" x2="352.90" y2="201.60" stroke="#0a0a0a" stroke-width="1.0"/>
<rect x="344.10" y="207.70" width="11.80" height="73.80" fill="url(#pc)" stroke="#1c1c1c" stroke-width="1"/>
<line x1="367.40" y1="216.80" x2="367.40" y2="218.50" stroke="#0a0a0a" stroke-width="1.0"/>
<line x1="364.70" y1="216.80" x2="370.10" y2="216.80" stroke="#0a0a0a" stroke-width="1.0"/>
<rect x="361.60" y="218.50" width="11.60" height="63.00" fill="#fff" stroke="#1c1c1c" stroke-width="1"/>
<line x1="362.10" y1="221.75" x2="372.70" y2="221.75" stroke="#6a6a6a" stroke-width="1.2"/>
<line x1="362.10" y1="225.00" x2="372.70" y2="225.00" stroke="#6a6a6a" stroke-width="1.2"/>
<line x1="362.10" y1="228.25" x2="372.70" y2="228.25" stroke="#6a6a6a" stroke-width="1.2"/>
<line x1="362.10" y1="231.50" x2="372.70" y2="231.50" stroke="#6a6a6a" stroke-width="1.2"/>
<line x1="362.10" y1="234.75" x2="372.70" y2="234.75" stroke="#6a6a6a" stroke-width="1.2"/>
<line x1="362.10" y1="238.00" x2="372.70" y2="238.00" stroke="#6a6a6a" stroke-width="1.2"/>
<line x1="362.10" y1="241.25" x2="372.70" y2="241.25" stroke="#6a6a6a" stroke-width="1.2"/>
<line x1="362.10" y1="244.50" x2="372.70" y2="244.50" stroke="#6a6a6a" stroke-width="1.2"/>
<line x1="362.10" y1="247.75" x2="372.70" y2="247.75" stroke="#6a6a6a" stroke-width="1.2"/>
<line x1="362.10" y1="251.00" x2="372.70" y2="251.00" stroke="#6a6a6a" stroke-width="1.2"/>
<line x1="362.10" y1="254.25" x2="372.70" y2="254.25" stroke="#6a6a6a" stroke-width="1.2"/>
<line x1="362.10" y1="257.50" x2="372.70" y2="257.50" stroke="#6a6a6a" stroke-width="1.2"/>
<line x1="362.10" y1="260.75" x2="372.70" y2="260.75" stroke="#6a6a6a" stroke-width="1.2"/>
<line x1="362.10" y1="264.00" x2="372.70" y2="264.00" stroke="#6a6a6a" stroke-width="1.2"/>
<line x1="362.10" y1="267.25" x2="372.70" y2="267.25" stroke="#6a6a6a" stroke-width="1.2"/>
<line x1="362.10" y1="270.50" x2="372.70" y2="270.50" stroke="#6a6a6a" stroke-width="1.2"/>
<line x1="362.10" y1="273.75" x2="372.70" y2="273.75" stroke="#6a6a6a" stroke-width="1.2"/>
<line x1="362.10" y1="277.00" x2="372.70" y2="277.00" stroke="#6a6a6a" stroke-width="1.2"/>
<line x1="362.10" y1="280.25" x2="372.70" y2="280.25" stroke="#6a6a6a" stroke-width="1.2"/>
<line x1="396.45" y1="205.70" x2="396.45" y2="209.20" stroke="#0a0a0a" stroke-width="1.0"/>
<line x1="393.75" y1="205.70" x2="399.15" y2="205.70" stroke="#0a0a0a" stroke-width="1.0"/>
<rect x="390.70" y="209.20" width="11.50" height="72.30" fill="url(#pg)" stroke="#1c1c1c" stroke-width="1"/>
<line x1="413.70" y1="212.60" x2="413.70" y2="213.10" stroke="#0a0a0a" stroke-width="1.0"/>
<line x1="411.00" y1="212.60" x2="416.40" y2="212.60" stroke="#0a0a0a" stroke-width="1.0"/>
<rect x="407.90" y="213.10" width="11.60" height="68.40" fill="url(#pc)" stroke="#1c1c1c" stroke-width="1"/>
<line x1="431.00" y1="213.60" x2="431.00" y2="214.00" stroke="#0a0a0a" stroke-width="1.0"/>
<line x1="428.30" y1="213.60" x2="433.70" y2="213.60" stroke="#0a0a0a" stroke-width="1.0"/>
<rect x="425.20" y="214.00" width="11.60" height="67.50" fill="#fff" stroke="#1c1c1c" stroke-width="1"/>
<line x1="425.70" y1="217.25" x2="436.30" y2="217.25" stroke="#6a6a6a" stroke-width="1.2"/>
<line x1="425.70" y1="220.50" x2="436.30" y2="220.50" stroke="#6a6a6a" stroke-width="1.2"/>
<line x1="425.70" y1="223.75" x2="436.30" y2="223.75" stroke="#6a6a6a" stroke-width="1.2"/>
<line x1="425.70" y1="227.00" x2="436.30" y2="227.00" stroke="#6a6a6a" stroke-width="1.2"/>
<line x1="425.70" y1="230.25" x2="436.30" y2="230.25" stroke="#6a6a6a" stroke-width="1.2"/>
<line x1="425.70" y1="233.50" x2="436.30" y2="233.50" stroke="#6a6a6a" stroke-width="1.2"/>
<line x1="425.70" y1="236.75" x2="436.30" y2="236.75" stroke="#6a6a6a" stroke-width="1.2"/>
<line x1="425.70" y1="240.00" x2="436.30" y2="240.00" stroke="#6a6a6a" stroke-width="1.2"/>
<line x1="425.70" y1="243.25" x2="436.30" y2="243.25" stroke="#6a6a6a" stroke-width="1.2"/>
<line x1="425.70" y1="246.50" x2="436.30" y2="246.50" stroke="#6a6a6a" stroke-width="1.2"/>
<line x1="425.70" y1="249.75" x2="436.30" y2="249.75" stroke="#6a6a6a" stroke-width="1.2"/>
<line x1="425.70" y1="253.00" x2="436.30" y2="253.00" stroke="#6a6a6a" stroke-width="1.2"/>
<line x1="425.70" y1="256.25" x2="436.30" y2="256.25" stroke="#6a6a6a" stroke-width="1.2"/>
<line x1="425.70" y1="259.50" x2="436.30" y2="259.50" stroke="#6a6a6a" stroke-width="1.2"/>
<line x1="425.70" y1="262.75" x2="436.30" y2="262.75" stroke="#6a6a6a" stroke-width="1.2"/>
<line x1="425.70" y1="266.00" x2="436.30" y2="266.00" stroke="#6a6a6a" stroke-width="1.2"/>
<line x1="425.70" y1="269.25" x2="436.30" y2="269.25" stroke="#6a6a6a" stroke-width="1.2"/>
<line x1="425.70" y1="272.50" x2="436.30" y2="272.50" stroke="#6a6a6a" stroke-width="1.2"/>
<line x1="425.70" y1="275.75" x2="436.30" y2="275.75" stroke="#6a6a6a" stroke-width="1.2"/>
<line x1="425.70" y1="279.00" x2="436.30" y2="279.00" stroke="#6a6a6a" stroke-width="1.2"/>
<text transform="translate(353.60 289.40) rotate(-45)" font-size="9.3" text-anchor="end" font-weight="normal" stroke="#0a0a0a" stroke-width="0.18">SK-BR-3</text>
<text transform="translate(416.00 289.30) rotate(-45)" font-size="9.3" text-anchor="end" font-weight="normal" stroke="#0a0a0a" stroke-width="0.18">BT-474</text>
<rect x="453.8" y="191.00" width="9" height="5.8" fill="url(#pg)" stroke="#0a0a0a" stroke-width="0.9"/>
<text transform="translate(467.70 197.00) scale(1.0 1.03)" font-size="8.5" text-anchor="start" font-weight="normal" stroke="#0a0a0a" stroke-width="0.18"><tspan font-family="Liberation Serif, serif" font-size="9" letter-spacing="0.35" stroke="none" fill="#2a2a2a">α</tspan>PEG:<tspan font-family="Liberation Serif, serif" font-size="9" letter-spacing="0.35" stroke="none" fill="#2a2a2a">α</tspan>HER2</text>
<rect x="453.8" y="202.50" width="9" height="5.8" fill="url(#pc)" stroke="#0a0a0a" stroke-width="0.9"/>
<text transform="translate(467.70 208.50) scale(1.0 1.03)" font-size="8.5" text-anchor="start" font-weight="normal" stroke="#0a0a0a" stroke-width="0.18"><tspan font-family="Liberation Serif, serif" font-size="9" letter-spacing="0.35" stroke="none" fill="#2a2a2a">α</tspan>PEG:<tspan font-family="Liberation Serif, serif" font-size="9" letter-spacing="0.35" stroke="none" fill="#2a2a2a">α</tspan>CD19</text>
<rect x="453.8" y="213.10" width="9" height="5.8" fill="url(#ps)" stroke="#0a0a0a" stroke-width="0.9"/>
<text transform="translate(467.70 219.10) scale(1.0 1.03)" font-size="8.5" text-anchor="start" font-weight="normal" stroke="#0a0a0a" stroke-width="0.18">Medium</text>
</svg>
</body>
</html>
